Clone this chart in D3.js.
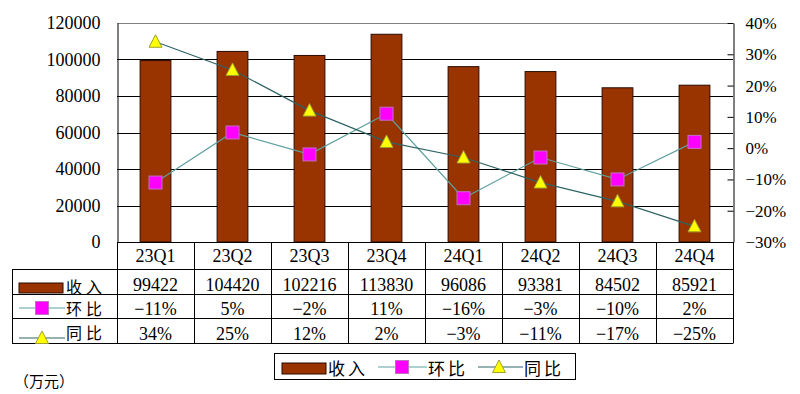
<!DOCTYPE html>
<html><head><meta charset="utf-8">
<script src="https://cdn.jsdelivr.net/npm/d3@7"></script>
<style>
body{margin:0;background:#fff;}
svg{display:block;}
</style></head>
<body>
<svg id="c" width="800" height="394"></svg>
<script>
const categories = ["23Q1","23Q2","23Q3","23Q4","24Q1","24Q2","24Q3","24Q4"];
const revenue = [99422,104420,102216,113830,96086,93381,84502,85921];
const qoq = [-11,5,-2,11,-16,-3,-10,2];
const yoy = [34,25,12,2,-3,-11,-17,-25];
const leftTicks = [0,20000,40000,60000,80000,100000,120000];
const rightTicks = [-30,-20,-10,0,10,20,30,40];
const seriesNames = ["收入","环比","同比"];
const unitLabel = "（万元）";

const svg = d3.select("#c");
const L = 117, R = 733, T = 23, B = 242;
const x = d3.scaleBand().domain(categories).range([L, R]);
const yL = d3.scaleLinear().domain([0,120000]).range([B, T]);
const yR = d3.scaleLinear().domain([-30,40]).range([B, T]);
const serif = "'Liberation Serif','DejaVu Serif',serif";
const cjk = "'Noto Sans CJK SC','Noto Sans',sans-serif";
const fmtPct = v => (v < 0 ? "\u2212" + Math.abs(v) : v) + "%";

const barColor = "#993300", qoqLine = "#5f9f9f", yoyLine = "#2f6464";

// gridlines
svg.append("g").selectAll("line").data(leftTicks.filter(d => d > 0 && d < 120000)).join("line")
  .attr("x1", L).attr("x2", R).attr("y1", d => Math.round(yL(d)) + 0.5).attr("y2", d => Math.round(yL(d)) + 0.5)
  .attr("stroke", "#000").attr("stroke-width", 1);
// top border
svg.append("line").attr("x1", L).attr("x2", R).attr("y1", T + 0.5).attr("y2", T + 0.5)
  .attr("stroke", "#808080").attr("stroke-width", 1);

// bars
const bw = x.bandwidth() * 0.4;
svg.append("g").selectAll("rect").data(revenue).join("rect")
  .attr("x", (d, i) => x(categories[i]) + (x.bandwidth() - bw) / 2)
  .attr("y", d => yL(d)).attr("width", bw).attr("height", d => B - yL(d))
  .attr("fill", barColor).attr("stroke", "#2a0a00").attr("stroke-width", 1);

// left axis
const gl = svg.append("g").attr("transform", `translate(${L + 0.5},0)`)
  .call(d3.axisLeft(yL).tickValues(leftTicks).tickFormat(d3.format("d")).tickSize(0).tickPadding(17));
gl.select(".domain").attr("stroke", "#000");
gl.selectAll("text").attr("font-family", serif).attr("font-size", 18).attr("fill", "#000");

// right axis
const gr = svg.append("g").attr("transform", `translate(${R + 0.5},0)`)
  .call(d3.axisRight(yR).tickValues(rightTicks).tickFormat(fmtPct).tickSizeInner(-6).tickSizeOuter(0).tickPadding(12));
gr.select(".domain").attr("stroke", "#000");
gr.selectAll("line").attr("stroke", "#000");
gr.selectAll("text").attr("font-family", serif).attr("font-size", 17).attr("fill", "#000");

// x axis line
svg.append("line").attr("x1", L).attr("x2", R).attr("y1", B + 0.5).attr("y2", B + 0.5).attr("stroke", "#000");

// lines
const cx = c => x(c) + x.bandwidth() / 2;
const lineQ = d3.line().x((d, i) => cx(categories[i])).y(d => yR(d));
svg.append("path").datum(qoq).attr("d", lineQ).attr("fill", "none").attr("stroke", qoqLine).attr("stroke-width", 1.2);
svg.append("path").datum(yoy).attr("d", lineQ).attr("fill", "none").attr("stroke", yoyLine).attr("stroke-width", 1.2);

function square(g, cxv, cyv) {
  g.append("rect").attr("x", cxv - 6.5).attr("y", cyv - 6.5).attr("width", 13).attr("height", 13)
    .attr("fill", "#ff00ff").attr("stroke", "#c070c0").attr("stroke-width", 1);
}
function tri(g, cxv, cyv) {
  g.append("path").attr("d", `M${cxv},${cyv - 7}L${cxv + 6.5},${cyv + 5.5}L${cxv - 6.5},${cyv + 5.5}Z`)
    .attr("fill", "#ffff00").attr("stroke", "#a0a030").attr("stroke-width", 1);
}
const mk = svg.append("g");
qoq.forEach((d, i) => square(mk, cx(categories[i]), yR(d)));
yoy.forEach((d, i) => tri(mk, cx(categories[i]), yR(d)));

// data table
const rows = [242, 269, 294, 318, 343];
const tb = svg.append("g").attr("stroke", "#000").attr("stroke-width", 1);
rows.slice(1).forEach(y => tb.append("line").attr("x1", 12).attr("x2", R).attr("y1", y + 0.5).attr("y2", y + 0.5));
tb.append("line").attr("x1", 12.5).attr("x2", 12.5).attr("y1", 269).attr("y2", 343.5);
categories.forEach(c => tb.append("line").attr("x1", Math.round(x(c)) + 0.5).attr("x2", Math.round(x(c)) + 0.5).attr("y1", B).attr("y2", 343.5));
tb.append("line").attr("x1", R + 0.5).attr("x2", R + 0.5).attr("y1", B).attr("y2", 343.5);

const tt = svg.append("g").attr("font-family", serif).attr("font-size", 18).attr("fill", "#000").attr("text-anchor", "middle");
categories.forEach((c, i) => {
  tt.append("text").attr("x", cx(c)).attr("y", 256).attr("dominant-baseline", "central").text(c);
  tt.append("text").attr("x", cx(c)).attr("y", 285).attr("dominant-baseline", "central").text(revenue[i]);
  tt.append("text").attr("x", cx(c)).attr("y", 309).attr("dominant-baseline", "central").text(fmtPct(qoq[i]));
  tt.append("text").attr("x", cx(c)).attr("y", 334).attr("dominant-baseline", "central").text(fmtPct(yoy[i]));
});

// row headers
const rh = svg.append("g");
rh.append("rect").attr("x", 19).attr("y", 283).attr("width", 44).attr("height", 10).attr("fill", barColor).attr("stroke", "#2a0a00");
rh.append("line").attr("x1", 19).attr("x2", 65).attr("y1", 308).attr("y2", 308).attr("stroke", qoqLine).attr("stroke-width", 1.2);
square(rh, 42, 308);
rh.append("line").attr("x1", 19).attr("x2", 65).attr("y1", 338).attr("y2", 338).attr("stroke", yoyLine).attr("stroke-width", 1.2);
tri(rh, 42, 338);
const rhText = [[286, seriesNames[0]], [308, seriesNames[1]], [332, seriesNames[2]]];
rhText.forEach(([y, t]) => rh.append("text").attr("x", 66).attr("y", y).attr("dominant-baseline", "central")
  .attr("font-family", cjk).attr("font-size", 16).attr("letter-spacing", 4).attr("fill", "#000").text(t));

// legend
const lg = svg.append("g");
lg.append("rect").attr("x", 274.5).attr("y", 353.5).attr("width", 301).attr("height", 26).attr("fill", "#fff").attr("stroke", "#000");
lg.append("rect").attr("x", 282).attr("y", 363).attr("width", 44).attr("height", 11).attr("fill", barColor).attr("stroke", "#2a0a00");
const lgT = (xv, t) => lg.append("text").attr("x", xv).attr("y", 367).attr("dominant-baseline", "central")
  .attr("font-family", cjk).attr("font-size", 17).attr("letter-spacing", 3).text(t);
lgT(328, seriesNames[0]);
lg.append("line").attr("x1", 378).attr("x2", 427).attr("y1", 367).attr("y2", 367).attr("stroke", qoqLine).attr("stroke-width", 1.2);
square(lg, 402, 367);
lgT(428, seriesNames[1]);
lg.append("line").attr("x1", 478).attr("x2", 523).attr("y1", 367).attr("y2", 367).attr("stroke", yoyLine).attr("stroke-width", 1.2);
tri(lg, 499, 367);
lgT(524, seriesNames[2]);

// unit
svg.append("text").attr("x", 14).attr("y", 380).attr("dominant-baseline", "central")
  .attr("font-family", cjk).attr("font-size", 15).text(unitLabel);
</script>
</body></html>
